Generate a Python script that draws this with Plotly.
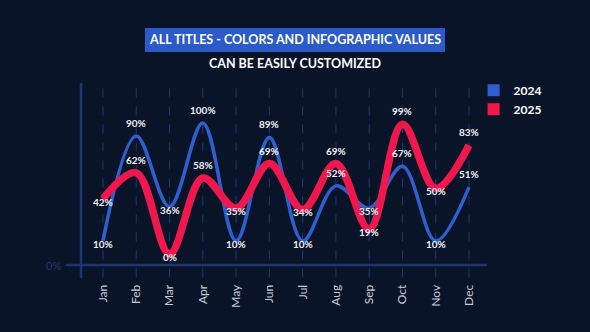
import plotly.graph_objects as go

months = ["Jan", "Feb", "Mar", "Apr", "May", "Jun", "Jul", "Aug", "Sep", "Oct", "Nov", "Dec"]
values_2024 = [10, 90, 36, 100, 10, 89, 10, 52, 35, 67, 10, 51]
values_2025 = [42, 62, 0, 58, 35, 69, 34, 69, 19, 99, 50, 83]
series_names = ["2024", "2025"]

BG = "#0a1429"
BLUE = "#2f5fcf"
RED = "#f0174d"
AXIS = "#1c3770"
FONT = "Lato"

x_idx = list(range(len(months)))

fig = go.Figure()
fig.add_trace(go.Scatter(x=x_idx, y=values_2024, name=series_names[0], mode="lines", showlegend=False,
                         line=dict(color=BLUE, width=3.5, shape="spline", smoothing=1.0)))
fig.add_trace(go.Scatter(x=x_idx, y=values_2025, name=series_names[1], mode="lines", showlegend=False,
                         line=dict(color=RED, width=7.5, shape="spline", smoothing=1.0)))
# legend entries as square swatches
for name, col in zip(series_names, (BLUE, RED)):
    fig.add_trace(go.Scatter(x=[None], y=[None], name=name, mode="markers",
                             marker=dict(symbol="square", size=13, color=col)))


def shift_for(vals, i):
    left = vals[i - 1] if i > 0 else None
    right = vals[i + 1] if i < len(vals) - 1 else None
    neigh = [v for v in (left, right) if v is not None]
    if all(vals[i] > v for v in neigh):
        return 13
    if all(vals[i] < v for v in neigh):
        return -3
    return 2


annotations = []
for vals in (values_2024, values_2025):
    for i, v in enumerate(vals):
        annotations.append(dict(x=i, y=v, xref="x", yref="y", text=f"{v}%", showarrow=False,
                                yshift=shift_for(vals, i),
                                font=dict(family=FONT, size=10, color="#eef0f5", weight="bold")))

fig.update_layout(
    width=590, height=332,
    paper_bgcolor=BG, plot_bgcolor=BG,
    margin=dict(l=81, r=103, t=83, b=67),
    showlegend=True,
    legend=dict(x=0.967, y=1.04, xanchor="left", yanchor="top",
                font=dict(family=FONT, size=12, color="#ffffff", weight="bold"),
                itemsizing="constant", tracegroupgap=0, bgcolor="rgba(0,0,0,0)"),
    xaxis=dict(range=[-0.66, 11.54], tickvals=x_idx, ticktext=months, tickangle=-90,
               showgrid=False, zeroline=False, showline=False,
               ticks="outside", ticklen=14, tickcolor="rgba(0,0,0,0)",
               tickfont=dict(family=FONT, size=12, color="#c8ccd8")),
    yaxis=dict(range=[-8.4, 130.5], showgrid=False, zeroline=False, showline=False,
               showticklabels=False),
    annotations=annotations,
)

# dashed vertical month guides (extend slightly below the baseline)
for i in x_idx:
    fig.add_shape(type="line", xref="x", yref="paper", x0=i, x1=i, y0=-0.068, y1=1,
                  line=dict(color=AXIS, width=1, dash="dash"), layer="below")
# axis lines (crossing style)
fig.add_shape(type="line", xref="paper", yref="paper", x0=-0.037, x1=1, y0=0, y1=0,
              line=dict(color=AXIS, width=2.5), layer="below")
fig.add_shape(type="line", xref="paper", yref="paper", x0=0, x1=0, y0=-0.072, y1=1,
              line=dict(color=AXIS, width=2.5), layer="below")
fig.add_annotation(x=-0.045, y=0, xref="paper", yref="paper", text="0%", showarrow=False,
                   xanchor="right", yanchor="middle", font=dict(family=FONT, size=11, color="#1f3a72"))

# Title box
fig.add_shape(type="rect", xref="paper", yref="paper",
              x0=(145 - 81) / 406, x1=(445 - 81) / 406,
              y0=1 + (83 - 52) / 182, y1=1 + (83 - 28) / 182,
              fillcolor="#2a5bc8", line=dict(color="#2a5bc8", width=0))
fig.add_annotation(x=(295 - 81) / 406, y=1 + (83 - 40) / 182, xref="paper", yref="paper",
                   text="ALL TITLES - COLORS AND INFOGRAPHIC VALUES", showarrow=False,
                   xanchor="center", yanchor="middle",
                   font=dict(family=FONT, size=12.5, color="#ffffff", weight="bold"))
fig.add_annotation(x=(295 - 81) / 406, y=1 + (83 - 64) / 182, xref="paper", yref="paper",
                   text="CAN BE EASILY CUSTOMIZED", showarrow=False,
                   xanchor="center", yanchor="middle",
                   font=dict(family=FONT, size=12.5, color="#ffffff", weight="bold"))

fig.write_html("out.html")
